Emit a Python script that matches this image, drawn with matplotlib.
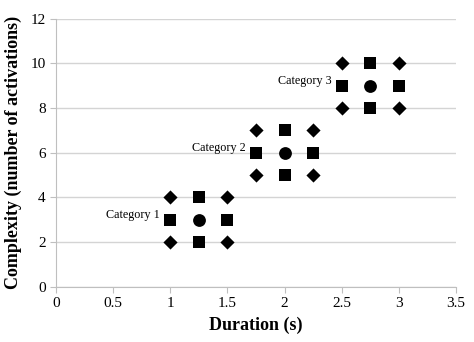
import numpy as np
import matplotlib.pyplot as plt

plt.rcParams['font.family'] = ['Liberation Serif', 'DejaVu Serif']

# Category centres (duration s, complexity)
categories = ['Category 1', 'Category 2', 'Category 3']
center_x = [1.25, 2.0, 2.75]
center_y = [3, 6, 9]

# Points around each centre
square_x = [1.0, 1.5, 1.25, 1.25, 1.75, 2.25, 2.0, 2.0, 2.5, 3.0, 2.75, 2.75]
square_y = [3, 3, 4, 2, 6, 6, 7, 5, 9, 9, 10, 8]
diamond_x = [1.0, 1.5, 1.0, 1.5, 1.75, 2.25, 1.75, 2.25, 2.5, 3.0, 2.5, 3.0]
diamond_y = [4, 4, 2, 2, 7, 7, 5, 5, 10, 10, 8, 8]

# label anchor = left square of each group
label_x = [1.0, 1.75, 2.5]
label_y = [3, 6, 9]

fig = plt.figure(figsize=(4.74, 3.42), dpi=100)
ax = fig.add_axes([0.118, 0.162, 0.844, 0.783])

ax.scatter(diamond_x, diamond_y, marker='D', s=52, color='black', zorder=3, linewidths=0)
ax.scatter(square_x, square_y, marker='s', s=80, color='black', zorder=3, linewidths=0)
ax.scatter(center_x, center_y, marker='o', s=85, color='black', zorder=3, linewidths=0)

for name, lx, ly in zip(categories, label_x, label_y):
    ax.text(lx - 0.09, ly + 0.2, name, ha='right', va='center', fontsize=8.7)

ax.set_xlim(0, 3.5)
ax.set_ylim(0, 12)
ax.set_xticks(np.arange(0, 3.51, 0.5))
ax.set_xticklabels(['0', '0.5', '1', '1.5', '2', '2.5', '3', '3.5'])
ax.set_yticks(np.arange(0, 13, 2))

ax.grid(axis='y', color='#d4d4d4', linewidth=1)
ax.set_axisbelow(True)
for side in ['top', 'right']:
    ax.spines[side].set_visible(False)
for side in ['left', 'bottom']:
    ax.spines[side].set_color('#bfbfbf')
ax.tick_params(axis='both', colors='#bfbfbf', labelcolor='black', labelsize=11, length=4)

ax.set_xlabel('Duration (s)', fontsize=13, fontweight='bold', labelpad=5)
ax.set_ylabel('Complexity (number of activations)', fontsize=13, fontweight='bold', labelpad=6)

fig.savefig('out.png', dpi=100)
